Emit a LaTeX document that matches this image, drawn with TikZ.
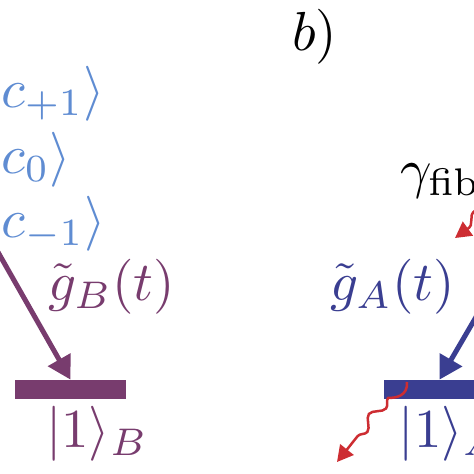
\documentclass[tikz,border=0pt]{standalone}
\usepackage{amsmath}
\usetikzlibrary{arrows.meta, decorations.pathmorphing, positioning}

\definecolor{ketblue}{RGB}{95,140,210}
\definecolor{plum}{RGB}{120,60,110}
\definecolor{navy}{RGB}{58,62,145}
\definecolor{photonred}{RGB}{205,45,50}

\begin{document}
\begin{tikzpicture} [x=0.02cm, y=-0.02cm,
            every node/.style={inner sep=0pt},
            lab/.style={scale=3.13},
            level/.style={rectangle, fill, minimum width=2.22cm, minimum height=0.38cm},
            coupling/.style={line width=0.1cm, -{Triangle[length=0.46cm, width=0.5cm]}},
            photon/.style={photonred, line width=0.05cm,
                -{Triangle[length=0.32cm, width=0.34cm]},
                decoration={snake, amplitude=0.1cm, segment length=0.6cm, post length=0.4cm}}]

        \clip (0,0) rectangle (474,474);

        % Panel label
        \node (lbl) [lab, anchor=base west] at (291,50) {$b)$};

        % Cavity states
        \node (cp) [lab, ketblue, anchor=base west] at (-15,107) {$|c_{+1}\rangle$};
        \node (cz) [lab, ketblue, anchor=base west] at (-15,173) {$|c_{0}\rangle$};
        \node (cm) [lab, ketblue, anchor=base west] at (-15,237) {$|c_{-1}\rangle$};

        % Level B
        \node (barB) [level, plum] at (70.5,389.5) {};
        \node (oneB) [lab, plum, below=0.12cm of barB, xshift=0.17cm] {$|1\rangle_B$};
        \node (gB) [lab, plum, anchor=base west] at (47,300) {$\tilde{g}_B(t)$};

        % Level A
        \node (barA) [level, navy] at (439.5,389.5) {};
        \node (oneA) [lab, navy, below=0.12cm of barA, xshift=0.06cm] {$|1\rangle_A$};
        \node (gA) [lab, navy, anchor=base west] at (329,300) {$\tilde{g}_A(t)$};

        % Fiber loss
        \node (gfib) [lab, anchor=base west] at (399,187) {$\gamma_{\mathrm{fib}}$};

        % Free ends
        \coordinate (srcB) at (-18,224);
        \coordinate (srcA) at (490,293);
        \coordinate (srcF) at (476,210);
        \coordinate (tipF) at (455,238);
        \coordinate (emA) at (407,382);
        \coordinate (tipA) at (337,462);

        % Arrows
        \draw [coupling, plum] (srcB) -- (barB.north);
        \draw [coupling, navy] (srcA) -- (barA.north);

        \draw [photon] (emA) .. controls (408,396) and (396,398) .. (388,398)
            decorate {-- (tipA)};
        \draw [photon] (srcF) .. controls (466,216) and (477,224) .. (466,230) -- (tipF);
\end{tikzpicture}
\end{document}
